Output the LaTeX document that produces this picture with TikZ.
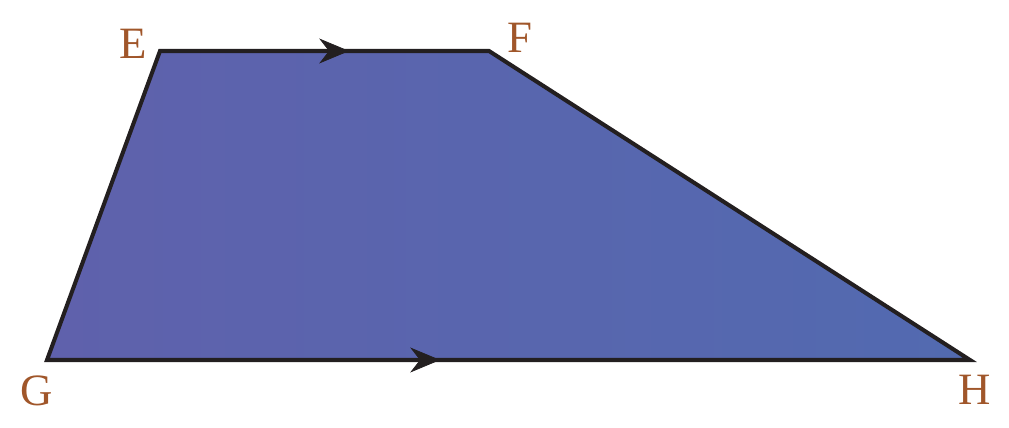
\documentclass[tikz,border=0pt]{standalone}
\usepackage{fontspec}
\setmainfont{Liberation Serif}
\usetikzlibrary{arrows.meta,decorations.markings}
\definecolor{fillleft}{RGB}{95,97,172}
\definecolor{fillright}{RGB}{82,106,176}
\definecolor{edgecol}{RGB}{35,31,32}
\definecolor{labelcol}{RGB}{160,86,42}

\begin{document}
\begin{tikzpicture}[x=0.02cm,y=-0.02cm,
  vertex label/.style={text=labelcol,font=\fontsize{25.5}{25.5}\selectfont,inner sep=0pt},
  side/.style={draw=edgecol,line width=2.3pt,line join=miter},
  mid arrow/.style={decorate,decoration={markings,
    mark=at position #1 with {\arrow[edgecol]{Stealth[length=0.6cm,width=0.5cm]}}}}]
\useasboundingbox (0,0) rectangle (1009,428);
\coordinate (E) at (160,51);
\coordinate (F) at (489,51);
\coordinate (G) at (47,360);
\coordinate (H) at (970,360);

\fill[left color=fillleft,right color=fillright] (E) -- (F) -- (H) -- (G) -- cycle;
\draw[side] (E) -- (F) -- (H) -- (G) -- cycle;
\path[mid arrow=0.575] (E) -- (F);
\path[mid arrow=0.426] (G) -- (H);

\node[vertex label] (lE) at (133,44) {E};
\node[vertex label] (lF) at (520,38) {F};
\node[vertex label] (lG) at (37,391) {G};
\node[vertex label] (lH) at (975,390) {H};
\end{tikzpicture}
\end{document}
